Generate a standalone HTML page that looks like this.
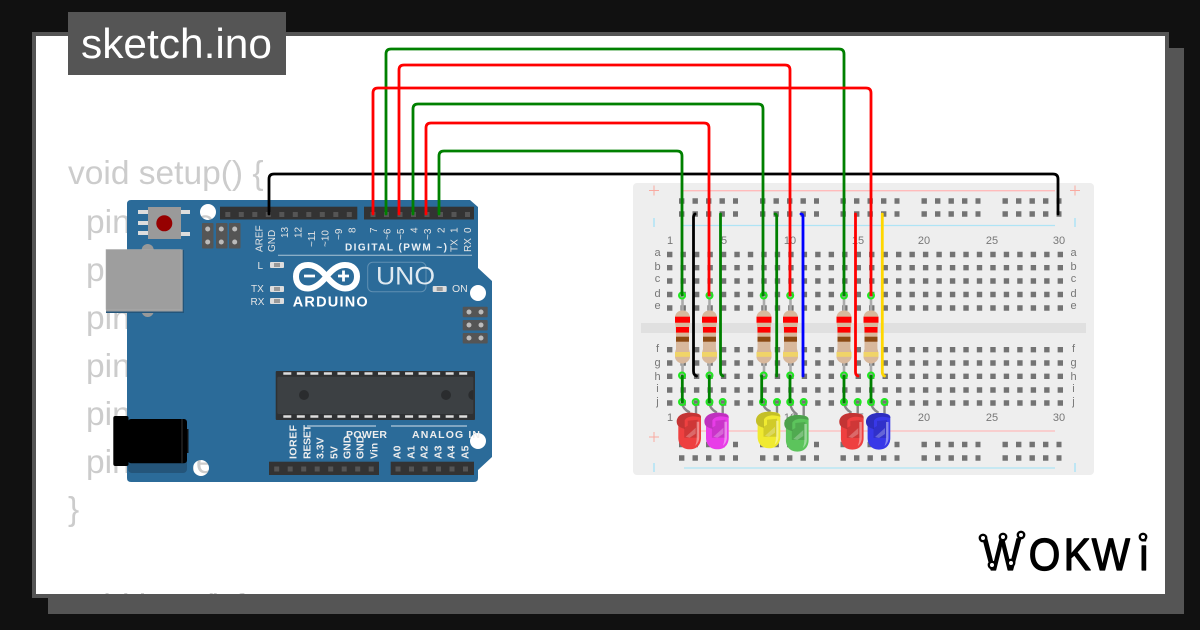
<!DOCTYPE html>
<html><head><meta charset="utf-8"><style>
html,body{margin:0;padding:0;background:#111;width:1200px;height:630px;overflow:hidden}
svg{display:block}
text{font-family:"Liberation Sans",sans-serif}
</style></head><body>
<svg width="1200" height="630" viewBox="0 0 1200 630" xmlns="http://www.w3.org/2000/svg">
<defs>
<clipPath id="cw"><rect x="36" y="36" width="1129" height="558"/></clipPath>
<g id="res">
<path d="M0 296V376" stroke="#aaa" stroke-width="2.6" fill="none"/>
<path d="M-7.5 318C-7.5 313-4 310.5 0 310.5C4 310.5 7.500 313 7.500 318V322C6.500 326 6.300 340 6.500 349C7.500 352 7.500 354 7.500 357C7.500 360 4 363.500 0 363.500C-4 363.500-7.500 360-7.500 357C-7.500 354-7.500 352-6.500 349C-6.300 340-6.500 326-7.500 322Z" fill="#d8b89c"/>
<rect x="-7.500" y="316.700" width="15" height="6" fill="#f00"/>
<rect x="-6.500" y="327" width="13" height="5.600" fill="#f00"/>
<rect x="-6.500" y="336.700" width="13" height="5" fill="#8b4a14"/>
<rect x="-7.500" y="352" width="15" height="4.800" fill="#f0d468"/>
</g>
<g id="led">
<path d="M1.600 8C1.600 3 8 0 13 0C19 0 24.300 1 24.300 4V25C24.300 32 20 36.600 13 36.600C6 36.600 1.600 32 1.600 25Z" fill="currentColor"/>
<path d="M0 9C0 3 6 0 12 0C18 0 24.300 1 24.300 5C18 3 11 3 8 7.500V16C3 15 0 13 0 9Z" fill="currentColor"/>
<path d="M0 9C0 3 6 0 12 0C18 0 24.300 1 24.300 5C18 3 11 3 8 7.500V16C3 15 0 13 0 9Z" fill="#000" opacity=".18"/>
<path d="M7.500 15L11 13V8L21 7V25H7.500Z" fill="#000" opacity=".13"/>
<path d="M9 24L19 15V21L13 25Z" fill="#fff" opacity=".25"/>
<path d="M20 9H22.500V25C22.500 28 21 31 18.500 33C20 29 20 27 20 24Z" fill="#fff" opacity=".4"/>
</g>
</defs>

<rect x="48" y="48" width="1136" height="566" fill="#555"/>
<rect x="32" y="32" width="1137" height="566" fill="#555"/>
<rect x="36" y="36" width="1129" height="558" fill="#fff"/>

<g clip-path="url(#cw)" fill="#ccc" font-size="33.500">
<text x="68" y="184">void setup() {</text>
<text x="86" y="233">pinMode(2, OUTPUT);</text>
<text x="86" y="281">pinMode(3, OUTPUT);</text>
<text x="86" y="329">pinMode(4, OUTPUT);</text>
<text x="86" y="377">pinMode(5, OUTPUT);</text>
<text x="86" y="425">pinMode(6, OUTPUT);</text>
<text x="86" y="473">pinMode(7, OUTPUT);</text>
<text x="68" y="520">}</text>
<text x="68" y="617">void loop() {</text>
</g>

<rect x="68" y="12" width="218" height="63" fill="#555"/>
<text x="81" y="58" fill="#fff" font-size="42" textLength="191" lengthAdjust="spacingAndGlyphs">sketch.ino</text>

<!-- Arduino -->
<path fill-rule="evenodd" fill="#2b6b99" d="M131 200H470L478 207V268L492 281V457L478 470V478Q478 482 474 482H131Q127 482 127 478V204Q127 200 131 200ZM200 212a8 8 0 1 0 16 0a8 8 0 1 0-16 0ZM470 293a8 8 0 1 0 16 0a8 8 0 1 0-16 0ZM470 441a8 8 0 1 0 16 0a8 8 0 1 0-16 0ZM193 468a8 8 0 1 0 16 0a8 8 0 1 0-16 0Z"/>

<!-- reset -->
<g fill="#ddd"><rect x="138" y="210" width="10" height="4"/><rect x="138" y="221" width="10" height="4"/><rect x="138" y="231" width="10" height="4"/><rect x="181" y="210" width="9" height="4"/><rect x="181" y="232" width="9" height="4"/></g>
<rect x="148" y="207" width="33" height="32" fill="#9a9a9a"/>
<circle cx="164.300" cy="223.300" r="8" fill="#960000"/>
<!-- ICSP -->
<g fill="#555"><rect x="202" y="223" width="11.500" height="25.500" rx="1"/><rect x="216" y="223" width="11.500" height="25.500" rx="1"/><rect x="229" y="223" width="11.500" height="25.500" rx="1"/>
<rect x="462.700" y="306.700" width="25" height="10.500" rx="1"/><rect x="462.700" y="320" width="25" height="10.500" rx="1"/><rect x="462.700" y="333" width="25" height="10.500" rx="1"/></g>
<g fill="#bbb"><circle cx="207.700" cy="229" r="2.500"/><circle cx="207.700" cy="242" r="2.500"/><circle cx="221.300" cy="229" r="2.500"/><circle cx="221.300" cy="242" r="2.500"/><circle cx="234.700" cy="229" r="2.500"/><circle cx="234.700" cy="242" r="2.500"/>
<circle cx="469" cy="312" r="2.500"/><circle cx="481" cy="312" r="2.500"/><circle cx="469" cy="325" r="2.500"/><circle cx="481" cy="325" r="2.500"/><circle cx="469" cy="338" r="2.500"/><circle cx="481" cy="338" r="2.500"/></g>
<!-- USB -->
<circle cx="147.700" cy="250" r="6" fill="#999"/><circle cx="147.700" cy="311" r="6" fill="#999"/>
<rect x="106" y="250" width="78" height="63" fill="#24557a"/>
<rect x="106" y="249.500" width="76.700" height="62" fill="#a0a0a0"/>
<rect x="106" y="249.500" width="75" height="60" fill="#9e9e9e" stroke="#aaa" stroke-width=".5"/>
<!-- jack -->
<rect x="128" y="440" width="59" height="33" rx="4" fill="#24557a"/>
<rect x="113.300" y="416" width="15.200" height="50" rx="2" fill="#000"/>
<rect x="128" y="419" width="59" height="44.300" rx="3" fill="#000"/>
<rect x="187" y="429" width="1.500" height="24" fill="#111"/>
<rect x="181.500" y="419" width="1" height="44" fill="#333"/>
<!-- headers -->
<g fill="#333"><rect x="220" y="206.700" width="137.300" height="12.800"/><rect x="364" y="206.700" width="110" height="12.800"/><rect x="269" y="461.700" width="110" height="13.300"/><rect x="390.700" y="461.700" width="83.300" height="13.300"/></g>
<g fill="none" stroke="#555" stroke-width="5" stroke-dasharray="5 8.500">
<path d="M225.300 214.500H352"/><path d="M370.500 214.500H470"/><path d="M274.200 469H375"/><path d="M395.500 469H469.500"/>
</g>
<!-- chip -->
<rect x="275.700" y="371" width="199.300" height="49" rx="1" fill="#2f3133"/>
<rect x="277.300" y="376.700" width="196" height="37.300" rx="1.500" fill="#3c4043"/>
<path d="M283.300 373.500H472M283.300 416.500H472" stroke="#ddd" stroke-width="2.500" stroke-dasharray="8 5.530" fill="none"/>
<circle cx="304" cy="395" r="5" fill="#2a2c2e"/><circle cx="446" cy="395" r="5" fill="#2a2c2e"/><path d="M473.300 390a5 5 0 0 0 0 10Z" fill="#2a2c2e"/>
<!-- logo -->
<path d="M326.500 276.500C318 266 312 265 308 265C300 265 296 270 296 276.500C296 283 300 288.500 308 288.500C312 288.500 318 287 326.500 276.500C335 266 341 265 345 265C353 265 357 270 357 276.500C357 283 353 288.500 345 288.500C341 288.500 335 287 326.500 276.500Z" fill="none" stroke="#fff" stroke-width="6"/>
<path d="M304 276H315M338 276H349M343.500 270.500V281.500" stroke="#fff" stroke-width="2.800" fill="none"/>
<text x="292.700" y="306.700" fill="#fff" font-size="14.500" font-weight="bold" textLength="75">ARDUINO</text>
<rect x="367.700" y="262.300" width="58.300" height="29.400" rx="5" fill="none" stroke="#fff" stroke-opacity=".25" stroke-width="1"/>
<text x="376" y="284.300" fill="#fff" fill-opacity=".85" font-size="25" textLength="59" lengthAdjust="spacingAndGlyphs">UNO</text>
<!-- board text -->
<path d="M278 255.200H472" stroke="#fff" stroke-opacity=".6" stroke-width="1"/>
<path d="M307 426H376M391 426H467" stroke="#fff" stroke-opacity=".8" stroke-width="1"/>
<text x="345" y="250.600" fill="#fff" fill-opacity=".9" font-size="10" font-weight="bold" textLength="102">DIGITAL (PWM ~)</text>
<g fill="#e4e4e4" font-size="10">
<text transform="translate(262.500,252) rotate(-90)">AREF</text>
<text transform="translate(275,252) rotate(-90)">GND</text>
<text transform="translate(288,238) rotate(-90)">13</text>
<text transform="translate(301.500,238) rotate(-90)">12</text>
<text transform="translate(315,247) rotate(-90)">~11</text>
<text transform="translate(328.500,247) rotate(-90)">~10</text>
<text transform="translate(342,240) rotate(-90)">~9</text>
<text transform="translate(355.500,233) rotate(-90)">8</text>
<text transform="translate(377,233) rotate(-90)">7</text>
<text transform="translate(390.500,240) rotate(-90)">~6</text>
<text transform="translate(404,240) rotate(-90)">~5</text>
<text transform="translate(417.500,233) rotate(-90)">4</text>
<text transform="translate(431,240) rotate(-90)">~3</text>
<text transform="translate(444.500,233) rotate(-90)">2</text>
<text transform="translate(457.500,233) rotate(-90)">1</text>
<text transform="translate(471,233) rotate(-90)">0</text>
<text transform="translate(457.500,252) rotate(-90)">TX</text>
<text transform="translate(471,252) rotate(-90)">RX</text>
<text x="257.500" y="269">L</text>
<text x="251" y="292">TX</text>
<text x="250.500" y="305">RX</text>
<text x="452" y="292" font-size="10.500">ON</text>
</g>
<g fill="#ddd"><rect x="270" y="262" width="14" height="6" rx="1"/><rect x="270" y="286" width="14" height="6" rx="1"/><rect x="270" y="298" width="14" height="6" rx="1"/><rect x="432.700" y="286" width="14" height="6" rx="1"/></g>
<g fill="#999"><rect x="274" y="263" width="6" height="4"/><rect x="274" y="287" width="6" height="4"/><rect x="274" y="299" width="6" height="4"/><rect x="436.700" y="287" width="6" height="4"/></g>
<g fill="#eee" font-size="10.500" font-weight="bold">
<text transform="translate(296.500,459) rotate(-90)" textLength="34">IOREF</text>
<text transform="translate(310.500,459) rotate(-90)" textLength="34">RESET</text>
<text transform="translate(323.500,459) rotate(-90)">3.3V</text>
<text transform="translate(337.500,459) rotate(-90)">5V</text>
<text transform="translate(350.500,459) rotate(-90)">GND</text>
<text transform="translate(363.500,459) rotate(-90)">GND</text>
<text transform="translate(377.500,459) rotate(-90)">Vin</text>
<text transform="translate(400.500,459) rotate(-90)">A0</text>
<text transform="translate(414.500,459) rotate(-90)">A1</text>
<text transform="translate(427.500,459) rotate(-90)">A2</text>
<text transform="translate(441.500,459) rotate(-90)">A3</text>
<text transform="translate(454.500,459) rotate(-90)">A4</text>
<text transform="translate(468.500,459) rotate(-90)">A5</text>
<text x="346" y="438" textLength="41">POWER</text>
<text x="412" y="438" textLength="68">ANALOG IN</text>
</g>

<!-- Breadboard -->
<rect x="633" y="183" width="461" height="292" rx="4" fill="#eee"/>
<rect x="641" y="323" width="445" height="10" fill="#e0e0e0"/>
<path d="M683 190.700H1055M683 431H1055" stroke="#fbb" stroke-width="1.300"/>
<path d="M683 225.500H1055M684 468H1055" stroke="#aee4f5" stroke-width="1.300"/>
<g stroke="#f9a9a0" stroke-width="1" fill="none"><path d="M649 190.500h10M654 185.500v10M1070 190.500h10M1075 185.500v10M649 437h10M654 432v10"/></g>
<g stroke="#aee4f5" stroke-width="1.500"><path d="M654 218v9M1075 218v9M654 463v9M1075 463v9"/></g>
<path fill="none" stroke="#737373" stroke-width="5.400" stroke-dasharray="5.400 8.100" d="M679 201h59M760 201h59M840.500 201h59M921.500 201h59M1002.500 201h59M679 214h59M760 214h59M840.500 214h59M921.500 214h59M1002.500 214h59M679 444.500h59M760 444.500h59M840.500 444.500h59M921.500 444.500h59M1002.500 444.500h59M679 458h59M760 458h59M840.500 458h59M921.500 458h59M1002.500 458h59"/>
<path fill="none" stroke="#737373" stroke-width="5.400" stroke-dasharray="5.400 8.070" d="M667 254.500H1063M667 267.700H1063M667 281H1063M667 294.500H1063M667 308H1063M667 349.700H1063M667 363H1063M667 376.300H1063M667 390H1063M667 403H1063"/>
<g fill="#777" font-size="11" text-anchor="middle">
<text x="670" y="244">1</text><text x="724" y="244">5</text><text x="790" y="244">10</text><text x="858" y="244">15</text><text x="924" y="244">20</text><text x="992" y="244">25</text><text x="1059" y="244">30</text>
<text x="670" y="421">1</text><text x="724" y="421">5</text><text x="790" y="421">10</text><text x="858" y="421">15</text><text x="924" y="421">20</text><text x="992" y="421">25</text><text x="1059" y="421">30</text>
<text x="657.500" y="256">a</text><text x="657.500" y="270">b</text><text x="657.500" y="282">c</text><text x="657.500" y="297">d</text><text x="657.500" y="309">e</text>
<text x="657.500" y="352">f</text><text x="657.500" y="366">g</text><text x="657.500" y="380">h</text><text x="657.500" y="392">i</text><text x="657.500" y="405">j</text>
<text x="1073.500" y="256">a</text><text x="1073.500" y="270">b</text><text x="1073.500" y="282">c</text><text x="1073.500" y="297">d</text><text x="1073.500" y="309">e</text>
<text x="1073.500" y="352">f</text><text x="1073.500" y="366">g</text><text x="1073.500" y="380">h</text><text x="1073.500" y="392">i</text><text x="1073.500" y="405">j</text>
</g>

<!-- LED leads -->
<g fill="none" stroke="#888" stroke-width="2.400">
<path d="M682 403Q683 409 689 412V418M696 403V418"/><path d="M709.300 403Q710.300 409 716 412V418M722.700 403V418"/>
<path d="M763 403Q764 409 769.500 411V418M777 403V418"/><path d="M790 403Q791 410 796.500 414V420M803.700 403V420"/>
<path d="M844 403Q845 409 850.500 412V418M857.700 403V418"/><path d="M871 403Q872 409 877.500 412V418M884.500 403V418"/>
</g>
<!-- resistors -->
<use href="#res" x="682.500"/><use href="#res" x="709.500"/><use href="#res" x="764"/><use href="#res" x="790.500"/><use href="#res" x="844"/><use href="#res" x="871"/>
<!-- green dots -->
<g fill="none" stroke="#1fe81f" stroke-width="2">
<circle cx="682" cy="295.500" r="3"/><circle cx="709.500" cy="295.500" r="3"/><circle cx="763.700" cy="295.500" r="3"/><circle cx="790.200" cy="295.500" r="3"/><circle cx="844" cy="295.500" r="3"/><circle cx="871" cy="295.500" r="3"/>
<circle cx="682" cy="375.500" r="3"/><circle cx="709.500" cy="375.500" r="3"/><circle cx="763.700" cy="375.500" r="3"/><circle cx="790.200" cy="375.500" r="3"/><circle cx="844" cy="375.500" r="3"/><circle cx="871" cy="375.500" r="3"/>
<circle cx="682" cy="402" r="3"/><circle cx="695.700" cy="402" r="3"/><circle cx="709.500" cy="402" r="3"/><circle cx="722.700" cy="402" r="3"/><circle cx="763" cy="402" r="3"/><circle cx="777" cy="402" r="3"/><circle cx="790.200" cy="402" r="3"/><circle cx="803.700" cy="402" r="3"/><circle cx="844" cy="402" r="3"/><circle cx="857.700" cy="402" r="3"/><circle cx="871" cy="402" r="3"/><circle cx="884.500" cy="402" r="3"/>
</g>
<!-- LEDs -->
<use href="#led" x="676.700" y="412.700" color="#ee4040"/>
<use href="#led" x="704.400" y="412.700" color="#e83ce8"/>
<use href="#led" x="756" y="411.700" color="#f0ea30"/>
<use href="#led" x="784.300" y="415" color="#5cc45c"/>
<use href="#led" x="839.300" y="413" color="#ee4040"/>
<use href="#led" x="866" y="413" color="#3838e8"/>

<!-- wires -->
<g fill="none" stroke-width="2.800" stroke-linecap="round" stroke-linejoin="round">
<path stroke="#000" d="M269 214V179Q269 174 274 174H1053Q1058 174 1058 179V214"/>
<path stroke="#008000" d="M386 214V54Q386 49 391 49H839Q844 49 844 54V295"/>
<path stroke="#f00" d="M399 214V70Q399 65 404 65H785Q790 65 790 70V295"/>
<path stroke="#f00" d="M373 214V93Q373 88 378 88H866Q871 88 871 93V295"/>
<path stroke="#008000" d="M413 214V109Q413 104 418 104H758Q763 104 763 109V295"/>
<path stroke="#f00" d="M426 214V128Q426 123 431 123H704Q709 123 709 128V295"/>
<path stroke="#008000" d="M439 214V156Q439 151 444 151H677Q682 151 682 156V295"/>
<path stroke="#000" d="M695 214Q693.500 215 693.500 217V371Q693.500 375 696.500 376"/>
<path stroke="#008000" d="M720.500 214V372Q720.500 375 723 376"/>
<path stroke="#008000" d="M775 214Q776.700 214 776.700 217V376"/>
<path stroke="#00f" d="M801 214Q803 214 803 217V376"/>
<path stroke="#f00" d="M855.500 214V372Q855.500 375 858 376"/>
<path stroke="#ffd700" d="M882.300 214V372Q882.300 375 884.500 376"/>
<path stroke="#008000" d="M682.300 376V402M709.300 376V402M761.700 376V402M790 376V402M844 376V402M871 376V402"/>
</g>

<!-- Wokwi logo -->
<text transform="scale(.9,1)" x="1092 1143 1182 1213 1266" y="570" font-size="45" fill="#000" stroke="#000" stroke-width="1.300" stroke-linejoin="round">WOKWi</text>
<g fill="#fff" stroke="#000" stroke-width="2.400">
<circle cx="983" cy="538" r="3.200"/><circle cx="1003" cy="537" r="3.200"/><circle cx="1021" cy="535" r="3.200"/><circle cx="992" cy="565" r="3.200"/><circle cx="1011" cy="563" r="3.200"/><circle cx="1143" cy="537" r="3.200"/>
</g>
</svg>
</body></html>
